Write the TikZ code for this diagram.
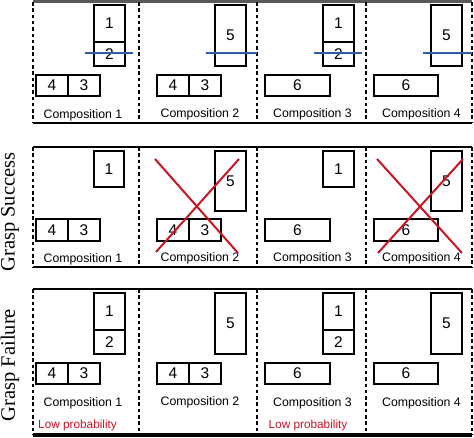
\documentclass[tikz,border=0pt]{standalone}
\usepackage{fontspec}
\setmainfont{Liberation Sans}
\newfontfamily\serifx{Liberation Serif}
\definecolor{bluel}{RGB}{45,95,165}
\definecolor{redx}{RGB}{200,20,35}
\newcommand\bx[6]{\node[blk,minimum width={#4pt-#2pt},minimum height={#5pt-#3pt}] (#1) at ({(#2+#4)/2},{(#3+#5)/2}) {#6};}
\begin{document}
\begin{tikzpicture}[x=1pt,y=-1pt,
 blk/.style={draw=black,line width=2pt,inner sep=0pt,outer sep=0pt,font=\fontsize{15.5}{15.5}\selectfont},
 lab/.style={font=\fontsize{12.3}{13}\selectfont,inner sep=0pt},
 lowp/.style={font=\fontsize{11.8}{12}\selectfont,text=redx,inner sep=0pt},
 frame/.style={line width=2.2pt},
 sep/.style={line width=2.5pt,dash pattern=on 3.5pt off 2.8pt},
 cut/.style={draw=bluel,line width=2.5pt},
 cross/.style={draw=redx,line width=2pt},
 side/.style={font=\serifx\fontsize{20.5}{21}\selectfont,rotate=90,inner sep=0pt}]
\useasboundingbox (0,0) rectangle (474,437);
% frames
\draw[frame,black!65,line width=2.8pt] (33,1.4) -- (472,1.4);
\draw[frame] (33,123) -- (472,123);
\draw[frame] (33,147) -- (472,147);
\draw[frame] (33,267) -- (472,267);
\draw[frame] (33,289) -- (472,289);
\draw[frame,line width=3.5pt] (33,435) -- (472,435);
\foreach \xx in {33,139,257,366,472}{
  \draw[sep] (\xx,2) -- (\xx,123);
  \draw[sep] (\xx,147) -- (\xx,267);
  \draw[sep] (\xx,289) -- (\xx,435);
}
% row 1
\bx{a11}{94}{5}{125}{42}{1}
\bx{a12}{94}{42}{125}{66}{2}
\bx{a14}{36}{75}{68}{96}{4}
\bx{a13}{68}{75}{100}{96}{3}
\bx{a25}{215}{5}{246}{66}{5}
\bx{a24}{157}{75}{189}{96}{4}
\bx{a23}{189}{75}{221}{96}{3}
\bx{a31}{323}{5}{354}{42}{1}
\bx{a32}{323}{42}{354}{66}{2}
\bx{a36}{265}{75}{330}{96}{6}
\bx{a45}{431}{5}{462}{66}{5}
\bx{a46}{374}{75}{438}{96}{6}
\draw[cut] (85,53) -- (133,53);
\draw[cut] (206,53) -- (257,53);
\draw[cut] (314,53) -- (362,53);
\draw[cut] (423,53) -- (472,53);
\node[lab] (la1) at (83,115) {Composition 1};
\node[lab] (la2) at (200,114) {Composition 2};
\node[lab] (la3) at (312.5,114) {Composition 3};
\node[lab] (la4) at (421.5,114) {Composition 4};
% row 2
\bx{b11}{94}{151}{124}{187}{1}
\bx{b14}{36}{219}{68}{241}{4}
\bx{b13}{68}{219}{100}{241}{3}
\bx{b25}{215}{151}{246}{211}{5}
\bx{b24}{157}{219}{189}{241}{4}
\bx{b23}{189}{219}{221}{241}{3}
\bx{b31}{323}{151}{354}{187}{1}
\bx{b36}{265}{219}{330}{241}{6}
\bx{b45}{431}{151}{462}{211}{5}
\bx{b46}{374}{219}{438}{241}{6}
\node[lab] (lb1) at (83,259) {Composition 1};
\node[lab] (lb2) at (200,258) {Composition 2};
\node[lab] (lb3) at (312.5,258) {Composition 3};
\node[lab] (lb4) at (421.5,258) {Composition 4};
\draw[cross] (155,159) -- (238,253);
\draw[cross] (156,252) -- (239,159);
\draw[cross] (377,159) -- (462,253);
\draw[cross] (378,253) -- (463,159);
% row 3
\bx{c11}{94}{293}{125}{330}{1}
\bx{c12}{94}{330}{125}{354}{2}
\bx{c14}{36}{363}{68}{384}{4}
\bx{c13}{68}{363}{100}{384}{3}
\bx{c25}{215}{293}{246}{354}{5}
\bx{c24}{157}{363}{189}{384}{4}
\bx{c23}{189}{363}{221}{384}{3}
\bx{c31}{323}{293}{354}{330}{1}
\bx{c32}{323}{330}{354}{354}{2}
\bx{c36}{265}{363}{330}{384}{6}
\bx{c45}{431}{293}{462}{354}{5}
\bx{c46}{374}{363}{438}{384}{6}
\node[lab] (lc1) at (83,403) {Composition 1};
\node[lab] (lc2) at (200,402) {Composition 2};
\node[lab] (lc3) at (312.5,403) {Composition 3};
\node[lab] (lc4) at (421.5,403) {Composition 4};
\node[lowp,anchor=west] (lp1) at (38,425) {Low probability};
\node[lowp] (lp3) at (308,425) {Low probability};
% side labels
\node[side] (gs) at (10,212) {Grasp Success};
\node[side] (gf) at (10,365) {Grasp Failure};
\end{tikzpicture}
\end{document}
